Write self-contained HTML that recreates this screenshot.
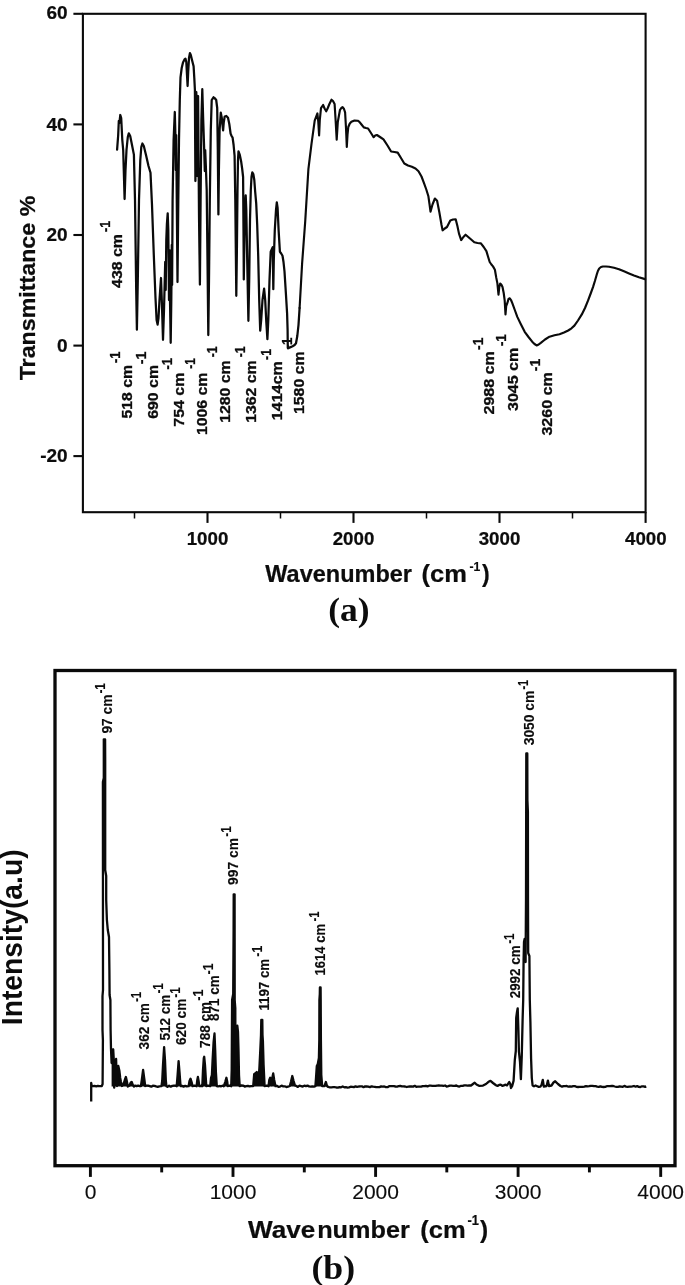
<!DOCTYPE html>
<html lang="en"><head><meta charset="utf-8"><title>FTIR and Raman spectra</title>
<style>html,body{margin:0;padding:0;background:#fff}svg{display:block}text{font-family:"Liberation Sans", Arial, Helvetica, sans-serif;fill:#0c0c0c;stroke:#0c0c0c;stroke-width:0.22px}.b{font-weight:700}.ser{font-family:"Liberation Serif", "Times New Roman", serif;font-weight:700;stroke:none}.lb{stroke-width:0.15px}.la{stroke-width:0.32px}</style></head><body>
<svg width="685" height="1285" viewBox="0 0 685 1285">
<rect width="685" height="1285" fill="#fff"/>
<g fill="none" stroke="#0a0a0a" stroke-width="2.1">
<rect x="82.9" y="13.8" width="562.7" height="498.40000000000003"/>
<line x1="73.4" y1="13.8" x2="82.9" y2="13.8"/>
<line x1="73.4" y1="124.4" x2="82.9" y2="124.4"/>
<line x1="73.4" y1="235.0" x2="82.9" y2="235.0"/>
<line x1="73.4" y1="345.6" x2="82.9" y2="345.6"/>
<line x1="73.4" y1="456.1" x2="82.9" y2="456.1"/>
<line x1="207.5" y1="512.2" x2="207.5" y2="522.9"/>
<line x1="353.5" y1="512.2" x2="353.5" y2="522.9"/>
<line x1="499.5" y1="512.2" x2="499.5" y2="522.9"/>
<line x1="645.6" y1="512.2" x2="645.6" y2="522.9"/>
<line x1="134.5" y1="512.2" x2="134.5" y2="518.5" stroke-width="1.5"/>
<line x1="280.5" y1="512.2" x2="280.5" y2="518.5" stroke-width="1.5"/>
<line x1="426.5" y1="512.2" x2="426.5" y2="518.5" stroke-width="1.5"/>
<line x1="572.5" y1="512.2" x2="572.5" y2="518.5" stroke-width="1.5"/>
</g>
<path d="M117.1,149.6 L118.2,135 L118.8,121 L119.4,123 L120.3,115 L121.2,118 L122.3,140 L123.2,150 L124.6,199 L125.5,170 L126.5,150 L127.8,137 L128.8,133.4 L130.2,136 L132,145 L133.9,154.6 L135,200 L136.2,290 L136.9,329.7 L137.8,280 L139,200 L140.3,160 L141.3,147 L142.4,143.5 L143.8,146 L146,155 L148.5,166 L150.5,172.8 L152,205 L153.8,255 L155.5,298 L156.6,320 L157.6,324.6 L158.5,318 L159.5,300 L161,278 L161.8,300 L163,339.8 L164,310 L165.2,262 L165.7,290 L166.3,240 L166.9,224 L167.7,213.3 L168.3,230 L169,300 L169.5,250 L170,300 L170.7,342.8 L171.3,300 L171.8,245 L172.1,285 L172.6,200 L173.6,140 L174.8,112 L175.4,135 L175.8,170 L176.2,135 L176.6,180 L177.5,282 L178.3,200 L179,140 L179.8,100 L180.5,77.4 L181.7,68 L183,62.4 L184.5,59.5 L185.5,58.7 L186.3,62 L187,75 L187.6,86 L188.2,72 L189,58 L189.9,53.1 L190.8,55 L192,60 L193.6,66.2 L194.3,78 L194.9,89.8 L195.1,130 L195.4,181 L195.9,130 L196.3,92 L196.8,140 L197.2,176 L197.7,130 L198.1,96 L198.5,150 L199,215 L199.9,284.6 L200.6,200 L201.4,120 L202.3,89.2 L203.2,120 L204.2,150 L204.8,171 L205.2,150 L205.8,165 L206.7,190 L207.5,260 L208.3,335.1 L209,280 L209.8,200 L210.8,130 L211.7,100 L213.5,97.3 L215,98.5 L216.2,100 L217.2,108 L217.8,150 L218.4,214.4 L218.9,170 L219.6,130 L220.8,112.6 L221.8,118 L222.5,125 L223.1,130.3 L223.8,122 L224.7,116.5 L226.3,116 L228,117.8 L229.3,124 L230.6,133.6 L231.6,136 L232.6,137.6 L233.6,145 L234.6,156 L235.3,200 L236.3,295.8 L236.9,250 L237.5,190 L238,160 L238.5,151.4 L239.8,155 L241.1,161.2 L242.2,169 L243.1,177 L243.5,230 L243.8,279.4 L244.4,240 L245,205 L245.7,195.4 L246.3,210 L247.2,260 L248.4,320.8 L249.2,280 L250,220 L250.8,190 L251.5,177 L252.3,172.4 L253.3,174 L254.3,180 L255.2,192 L256.2,203.3 L257.2,225 L258.2,255.7 L259.2,300 L260.2,330.6 L261.2,320 L262.5,300 L264.1,288.6 L265.2,300 L266.3,322 L267.4,339.2 L268.3,320 L269.5,280 L270.7,251.8 L272.7,247.2 L273,265 L273.3,289.2 L273.8,260 L274.8,230 L276,210 L276.8,202.3 L277.6,208 L278.6,230 L279.9,251.8 L281.2,253.5 L282.5,255.7 L283.5,262 L284.5,271.5 L285.8,292 L287.1,313.5 L287.6,330 L287.8,348.1 L289.5,347.6 L292.6,346.2 L294.6,345 L296,343.3 L297.3,336 L298.5,325 L299.6,308" fill="none" stroke="#0a0a0a" stroke-width="2.25" stroke-linejoin="round" stroke-linecap="round"/>
<path d="M299.6,308 L302.1,263.6 L305.2,221.6 L308.4,169.1 L311.5,143.8 L314.7,120.7 L317.4,113.4 L318.3,122 L319.1,135.4 L319.8,120 L321,108.1 L323.1,105 L324.6,108.5 L326.2,111.3 L327.8,108 L329.4,104 L331.5,99.7 L333,101 L334.6,103.9 L335.6,120 L336.7,139.6 L337.8,122 L339.9,110.2 L341.3,108 L342.6,107.1 L344,109 L345.1,112.3 L346,128 L346.8,147 L347.5,135 L348.3,127 L349.8,123.5 L351.4,121.8 L354.5,120.5 L357.7,120.7 L359.4,121.9 L361.5,124.5 L363.8,127.4 L366,128 L368.1,128.5 L371,133 L373.6,137.2 L375.2,135.5 L376.9,135 L380,137 L383.5,139.4 L387.5,145.5 L391.1,151.5 L394.5,152 L397.7,152.6 L401,158 L404.3,163.5 L408,165.5 L411.9,166.8 L415.5,168.5 L418.5,171.2 L421.5,176.5 L424,183.2 L426.3,189.5 L428.4,196.3 L429.5,204 L430.5,211.7 L432.5,204.5 L434.9,198.5 L437.1,200.7 L439.3,212 L441.5,224.8 L442.6,230.3 L444.8,228.5 L447,227 L450.3,220.4 L453,219.5 L455.7,219.3 L457.4,226 L459,233.6 L461.2,240.1 L463.4,237 L465.6,234.7 L470,238.5 L474.3,242.3 L477.5,243 L480.9,243.4 L483.7,247 L486.4,251.1 L488,256.5 L489.7,262 L491.4,264.5 L493,266.4 L494.9,269.7 L496.2,277.4 L497.4,283.4 L498.5,294.7 L499.3,287 L500.2,283.5 L501.3,284.5 L502.5,287 L503.7,293 L504.7,300.7 L505.5,314.4 L506.2,306 L507.3,303.2 L508.5,299 L509.8,298.3 L511,300 L512.3,303.2 L514.8,310 L517.3,316.9 L521,324.5 L524.7,331.8 L528.5,337 L532.2,341.7 L534.5,344 L536.6,345.4 L538.7,344.5 L540.8,342.9 L545,339.5 L549.5,336.7 L554.5,335.3 L559.5,334.2 L564,332.5 L568.2,330.5 L571.5,328.3 L574.4,325.6 L578,320.5 L581.8,314.4 L585,308 L588,300.7 L590.5,294 L593,287.1 L594.9,281 L596.7,274.7 L597.9,271 L599.2,268.5 L601,267 L602.9,266.5 L606,266.5 L609.1,266.7 L614,267.8 L619,269.2 L624,271.3 L629,273.4 L634,275.4 L638.9,277.2 L645.1,279.1" fill="none" stroke="#0a0a0a" stroke-width="2.15" stroke-linejoin="round" stroke-linecap="round"/>
<text class="b" x="67.6" y="18.9" font-size="19" text-anchor="end">60</text>
<text class="b" x="67.6" y="130.6" font-size="19" text-anchor="end">40</text>
<text class="b" x="67.6" y="241.1" font-size="19" text-anchor="end">20</text>
<text class="b" x="67.6" y="351.7" font-size="19" text-anchor="end">0</text>
<text class="b" x="67.6" y="462.4" font-size="19" text-anchor="end">-20</text>
<text class="b" x="207.5" y="545.1" font-size="19" text-anchor="middle" textLength="41.6" lengthAdjust="spacingAndGlyphs">1000</text>
<text class="b" x="353.5" y="545.1" font-size="19" text-anchor="middle" textLength="41.6" lengthAdjust="spacingAndGlyphs">2000</text>
<text class="b" x="499.5" y="545.1" font-size="19" text-anchor="middle" textLength="41.6" lengthAdjust="spacingAndGlyphs">3000</text>
<text class="b" x="645.8" y="545.1" font-size="19" text-anchor="middle" textLength="41.6" lengthAdjust="spacingAndGlyphs">4000</text>
<text class="b" transform="translate(35.1,380.3) rotate(-90)" font-size="22.6" textLength="184.6" lengthAdjust="spacingAndGlyphs">Transmittance %</text>
<text class="b" x="265.3" y="581.6" font-size="23" textLength="146.7" lengthAdjust="spacingAndGlyphs">Wavenumber</text>
<text class="b" x="421.6" y="581.6" font-size="23" textLength="45.4" lengthAdjust="spacingAndGlyphs">(cm</text>
<text class="b" x="469.4" y="570.8" font-size="12.8" textLength="10.8" lengthAdjust="spacingAndGlyphs">-1</text>
<text class="b" x="482.0" y="581.6" font-size="23">)</text>
<text class="ser" x="328.2" y="620.9" font-size="33.5" textLength="41.4" lengthAdjust="spacingAndGlyphs">(a)</text>
<text class="b la" transform="translate(122.4,287.9) rotate(-90)" font-size="15" textLength="53.9" lengthAdjust="spacingAndGlyphs">438 cm</text>
<text class="b la" transform="translate(109.8,231.9) rotate(-90)" font-size="14.4" textLength="11.1" lengthAdjust="spacingAndGlyphs">-1</text>
<text class="b la" transform="translate(131.5,418.4) rotate(-90)" font-size="15" textLength="53.4" lengthAdjust="spacingAndGlyphs">518 cm</text>
<text class="b la" transform="translate(120.2,363.09999999999997) rotate(-90)" font-size="14.4" textLength="11.5" lengthAdjust="spacingAndGlyphs">-1</text>
<text class="b la" transform="translate(158.2,418.8) rotate(-90)" font-size="15" textLength="53.8" lengthAdjust="spacingAndGlyphs">690 cm</text>
<text class="b la" transform="translate(146.4,364.29999999999995) rotate(-90)" font-size="14.4" textLength="12.7" lengthAdjust="spacingAndGlyphs">-1</text>
<text class="b la" transform="translate(183.6,426.7) rotate(-90)" font-size="15" textLength="54.1" lengthAdjust="spacingAndGlyphs">754 cm</text>
<text class="b la" transform="translate(171.8,369.59999999999997) rotate(-90)" font-size="14.4" textLength="11.7" lengthAdjust="spacingAndGlyphs">-1</text>
<text class="b la" transform="translate(206.9,435.1) rotate(-90)" font-size="15" textLength="62.5" lengthAdjust="spacingAndGlyphs">1006 cm</text>
<text class="b la" transform="translate(195.0,368.7) rotate(-90)" font-size="14.4" textLength="10.5" lengthAdjust="spacingAndGlyphs">-1</text>
<text class="b la" transform="translate(229.8,422.8) rotate(-90)" font-size="15" textLength="62.5" lengthAdjust="spacingAndGlyphs">1280 cm</text>
<text class="b la" transform="translate(217.0,357.29999999999995) rotate(-90)" font-size="14.4" textLength="10.8" lengthAdjust="spacingAndGlyphs">-1</text>
<text class="b la" transform="translate(256.4,422.8) rotate(-90)" font-size="15" textLength="62.5" lengthAdjust="spacingAndGlyphs">1362 cm</text>
<text class="b la" transform="translate(245.0,357.29999999999995) rotate(-90)" font-size="14.4" textLength="10.8" lengthAdjust="spacingAndGlyphs">-1</text>
<text class="b la" transform="translate(282.3,420.2) rotate(-90)" font-size="15" textLength="59.0" lengthAdjust="spacingAndGlyphs">1414cm</text>
<text class="b la" transform="translate(270.8,359.9) rotate(-90)" font-size="14.4" textLength="10.9" lengthAdjust="spacingAndGlyphs">-1</text>
<text class="b la" transform="translate(303.9,414.0) rotate(-90)" font-size="15" textLength="62.5" lengthAdjust="spacingAndGlyphs">1580 cm</text>
<text class="b la" transform="translate(291.9,349.4) rotate(-90)" font-size="14.4" textLength="11.8" lengthAdjust="spacingAndGlyphs">-1</text>
<text class="b la" transform="translate(494.3,414.5) rotate(-90)" font-size="15" textLength="63.3" lengthAdjust="spacingAndGlyphs">2988 cm</text>
<text class="b la" transform="translate(482.5,349.9) rotate(-90)" font-size="14.4" textLength="12.2" lengthAdjust="spacingAndGlyphs">-1</text>
<text class="b la" transform="translate(517.6,411.0) rotate(-90)" font-size="15" textLength="63.3" lengthAdjust="spacingAndGlyphs">3045 cm</text>
<text class="b la" transform="translate(506.0,346.09999999999997) rotate(-90)" font-size="14.4" textLength="11.9" lengthAdjust="spacingAndGlyphs">-1</text>
<text class="b la" transform="translate(552.1,435.6) rotate(-90)" font-size="15" textLength="63.4" lengthAdjust="spacingAndGlyphs">3260 cm</text>
<text class="b la" transform="translate(539.8,371.29999999999995) rotate(-90)" font-size="14.4" textLength="12.5" lengthAdjust="spacingAndGlyphs">-1</text>
<g fill="none" stroke="#0a0a0a" stroke-width="3.3">
<rect x="55.0" y="670.5" width="620.0" height="495.20000000000005"/>
</g><g fill="none" stroke="#0a0a0a" stroke-width="2.9">
<line x1="90.4" y1="1165.7" x2="90.4" y2="1176.9"/>
<line x1="233.0" y1="1165.7" x2="233.0" y2="1176.9"/>
<line x1="375.6" y1="1165.7" x2="375.6" y2="1176.9"/>
<line x1="518.1" y1="1165.7" x2="518.1" y2="1176.9"/>
<line x1="660.7" y1="1165.7" x2="660.7" y2="1176.9"/>
<line x1="161.7" y1="1165.7" x2="161.7" y2="1172.4"/>
<line x1="304.3" y1="1165.7" x2="304.3" y2="1172.4"/>
<line x1="446.8" y1="1165.7" x2="446.8" y2="1172.4"/>
<line x1="589.4" y1="1165.7" x2="589.4" y2="1172.4"/>
</g>
<path d="M111.6,1063 L112.4,1052 L113.2,1049.3 L113.8,1060 L114.2,1087.7 L114.8,1070 L115.5,1062 L116.1,1059 L116.6,1075 L117,1086 L117.6,1070 L118.3,1066 L119.4,1070.8 L120.2,1078 L121,1082 L122,1086 L123.5,1084 L124.8,1080 L125.9,1077 L126.8,1081 L127.8,1086.5 L129.5,1085.5 L130.8,1082.5 L131.7,1081.9 L132.8,1085 L134,1086.5 L135,1085.6 L136.6,1086.2 L138.2,1085.6 L139.8,1086.1 L140.9,1086.2 L141.8,1080 L143.1,1069.9 L144.3,1079 L145.2,1086 L146.5,1085.6 L148.1,1085.6 L149.7,1086.1 L151.3,1086.7 L152.9,1085.7 L154.5,1085.8 L156.1,1086.4 L157.7,1086.8 L159.3,1086.3 L160.9,1086.1 L161.5,1086 L162.2,1081 L163,1065 L164.1,1047.2 L165,1060 L165.8,1080 L166.4,1086.2 L167.5,1086.9 L169.1,1085.6 L170.7,1086.7 L172.3,1085.9 L173.9,1085.7 L175.5,1085.7 L176.7,1086.2 L177.6,1075 L178.6,1061.2 L179.5,1072 L180.4,1084 L181,1086.2 L182,1085.9 L183.6,1086.6 L185.2,1085.8 L186.8,1086.3 L188.6,1086.2 L189.5,1081 L190.5,1078.7 L191.6,1082 L192.6,1086.2 L194.5,1085.6 L196.6,1086.2 L197.3,1080 L197.9,1077 L198.6,1081 L199.3,1086.2 L200.8,1085.8 L202.3,1086.2 L203,1070 L203.8,1058 L204.2,1056.8 L205,1065 L206.3,1086.2 L208,1085.6 L210.2,1086.2 L211,1078 L211.9,1075 L212.6,1060 L213.6,1042 L214.5,1033.5 L215.2,1050 L215.9,1072 L216.8,1086.2 L218,1086.4 L219.6,1086 L221.2,1086.3 L222.8,1085.6 L223.8,1086.2 L225.2,1082 L226.4,1077.8 L227.3,1082 L227.7,1086.2 L229.5,1085.7 L231.2,1086.2 L231.7,1070 L232.1,1000 L233.2,994 L233.6,930 L233.7,894.3 L234.6,894.3 L234.7,1000 L235.3,1008 L235.4,1050 L235.5,1080 L236,1060 L236.6,1035 L237.3,1025.7 L238,1032 L238.5,1050 L239,1075 L239.7,1086.2 L241.5,1085.3 L243.1,1085.6 L244.7,1086.6 L246.3,1086.1 L247.9,1085.8 L249.5,1086.4 L251.1,1086.1 L253.2,1086 L254.2,1074 L255.4,1073.4 L256.8,1072 L257.6,1083 L258.6,1079 L259.4,1068 L260.3,1050 L261,1035 L261.3,1019.8 L262.3,1019.8 L262.5,1035 L262.9,1041 L263.6,1065 L264.6,1086.2 L266.8,1085.7 L268.5,1086.2 L269.3,1080 L270.2,1077.8 L271,1082 L271.6,1085 L272.3,1078 L273.2,1073.4 L274.2,1080 L275.5,1086.2 L276.8,1085.8 L278.4,1086.8 L280,1086.6 L281.6,1085.7 L283.2,1086.3 L284.8,1086.3 L286.4,1087 L288,1086.7 L289.8,1086 L290.9,1082 L292.3,1076 L293.6,1081 L295,1085.5 L296.3,1085.9 L297.9,1086.9 L299.5,1085.7 L301.1,1086.1 L302.7,1086.6 L304.3,1085.7 L305.9,1086.2 L307.5,1085.6 L309.1,1086.4 L310.7,1086.6 L312.3,1086.3 L313.9,1086.7 L315.4,1086.2 L316,1078 L316.8,1066 L317.8,1064 L318.9,1058 L319.3,1040 L319.4,1000 L319.8,994 L319.9,987.4 L320.6,987.4 L320.7,1000 L320.9,1040 L321.3,1075 L322.2,1086.2 L324.5,1086 L325.9,1082 L327,1086 L328.3,1087 L329.9,1087.4 L329.9,1086.6 L111.6,1086.6Z" fill="#0a0a0a" stroke="none"/>
<path d="M91.2,1101.5 L91.2,1083 L91.8,1086.2 L93,1086.1 L94.6,1085.9 L96.2,1086.3 L97.8,1085.9 L99.4,1086.2 L101,1086.1 L101.8,1086.2 L102.6,1084 L102.9,1040 L102.5,1030 L102.5,996 L103,990 L102.9,782 L103.8,778 L103.8,739.3 L105.1,739.3 L105.2,760 L105.2,870 L106.2,876 L106.2,900 L106.9,920 L107.8,930 L109,937 L109.4,970 L109.6,995 L110.4,1000 L110.6,1030 L111,1049 L111.6,1063 L112.4,1052 L113.2,1049.3 L113.8,1060 L114.2,1087.7 L114.8,1070 L115.5,1062 L116.1,1059 L116.6,1075 L117,1086 L117.6,1070 L118.3,1066 L119.4,1070.8 L120.2,1078 L121,1082 L122,1086 L123.5,1084 L124.8,1080 L125.9,1077 L126.8,1081 L127.8,1086.5 L129.5,1085.5 L130.8,1082.5 L131.7,1081.9 L132.8,1085 L134,1086.5 L135,1085.6 L136.6,1086.2 L138.2,1085.6 L139.8,1086.1 L140.9,1086.2 L141.8,1080 L143.1,1069.9 L144.3,1079 L145.2,1086 L146.5,1085.6 L148.1,1085.6 L149.7,1086.1 L151.3,1086.7 L152.9,1085.7 L154.5,1085.8 L156.1,1086.4 L157.7,1086.8 L159.3,1086.3 L160.9,1086.1 L161.5,1086 L162.2,1081 L163,1065 L164.1,1047.2 L165,1060 L165.8,1080 L166.4,1086.2 L167.5,1086.9 L169.1,1085.6 L170.7,1086.7 L172.3,1085.9 L173.9,1085.7 L175.5,1085.7 L176.7,1086.2 L177.6,1075 L178.6,1061.2 L179.5,1072 L180.4,1084 L181,1086.2 L182,1085.9 L183.6,1086.6 L185.2,1085.8 L186.8,1086.3 L188.6,1086.2 L189.5,1081 L190.5,1078.7 L191.6,1082 L192.6,1086.2 L194.5,1085.6 L196.6,1086.2 L197.3,1080 L197.9,1077 L198.6,1081 L199.3,1086.2 L200.8,1085.8 L202.3,1086.2 L203,1070 L203.8,1058 L204.2,1056.8 L205,1065 L206.3,1086.2 L208,1085.6 L210.2,1086.2 L211,1078 L211.9,1075 L212.6,1060 L213.6,1042 L214.5,1033.5 L215.2,1050 L215.9,1072 L216.8,1086.2 L218,1086.4 L219.6,1086 L221.2,1086.3 L222.8,1085.6 L223.8,1086.2 L225.2,1082 L226.4,1077.8 L227.3,1082 L227.7,1086.2 L229.5,1085.7 L231.2,1086.2 L231.7,1070 L232.1,1000 L233.2,994 L233.6,930 L233.7,894.3 L234.6,894.3 L234.7,1000 L235.3,1008 L235.4,1050 L235.5,1080 L236,1060 L236.6,1035 L237.3,1025.7 L238,1032 L238.5,1050 L239,1075 L239.7,1086.2 L241.5,1085.3 L243.1,1085.6 L244.7,1086.6 L246.3,1086.1 L247.9,1085.8 L249.5,1086.4 L251.1,1086.1 L253.2,1086 L254.2,1074 L255.4,1073.4 L256.8,1072 L257.6,1083 L258.6,1079 L259.4,1068 L260.3,1050 L261,1035 L261.3,1019.8 L262.3,1019.8 L262.5,1035 L262.9,1041 L263.6,1065 L264.6,1086.2 L266.8,1085.7 L268.5,1086.2 L269.3,1080 L270.2,1077.8 L271,1082 L271.6,1085 L272.3,1078 L273.2,1073.4 L274.2,1080 L275.5,1086.2 L276.8,1085.8 L278.4,1086.8 L280,1086.6 L281.6,1085.7 L283.2,1086.3 L284.8,1086.3 L286.4,1087 L288,1086.7 L289.8,1086 L290.9,1082 L292.3,1076 L293.6,1081 L295,1085.5 L296.3,1085.9 L297.9,1086.9 L299.5,1085.7 L301.1,1086.1 L302.7,1086.6 L304.3,1085.7 L305.9,1086.2 L307.5,1085.6 L309.1,1086.4 L310.7,1086.6 L312.3,1086.3 L313.9,1086.7 L315.4,1086.2 L316,1078 L316.8,1066 L317.8,1064 L318.9,1058 L319.3,1040 L319.4,1000 L319.8,994 L319.9,987.4 L320.6,987.4 L320.7,1000 L320.9,1040 L321.3,1075 L322.2,1086.2 L324.5,1086 L325.9,1082 L327,1086 L328.3,1087 L329.9,1087.4 L331.5,1087.3 L333.1,1087.2 L334.7,1087.1 L336.3,1087.5 L337.9,1087.6 L339.5,1087.1 L341.1,1087.3 L342.7,1086.5 L344.3,1087.3 L345.9,1087.2 L347.5,1087.6 L349.1,1087.4 L350.7,1086.7 L352.3,1086.8 L353.9,1087.1 L355.5,1086.4 L357.1,1086.9 L358.7,1086.5 L360.3,1086.4 L361.9,1086.3 L363.5,1087.2 L365.1,1086.4 L366.7,1086.5 L368.3,1086.7 L369.9,1087.2 L371.5,1086.3 L373.1,1086.7 L374.7,1086.8 L376.3,1087.2 L377.9,1087.1 L379.5,1087.1 L381.1,1086.4 L382.7,1086.6 L384.3,1086.5 L385.9,1087.1 L387.5,1087.2 L389.1,1086.2 L390.7,1086.2 L392.3,1086.2 L393.9,1086.2 L395.5,1086.5 L397.1,1086.6 L398.7,1086.2 L400.3,1085.9 L401.9,1086.4 L403.5,1086.3 L405.1,1086.5 L406.7,1087 L408.3,1086.6 L409.9,1086.4 L411.5,1086.5 L413.1,1086.6 L414.7,1085.8 L416.3,1086.8 L417.9,1086.7 L419.5,1086.7 L421.1,1086.6 L422.7,1086.1 L424.3,1086.1 L425.9,1085.8 L427.5,1086.4 L429.1,1085.7 L430.7,1085.7 L432.3,1085.8 L433.9,1085.8 L435.5,1085.9 L437.1,1085.6 L438.7,1085.5 L440.3,1085.7 L441.9,1085.6 L443.5,1085.9 L445.1,1085.5 L446.7,1086.5 L448.3,1086.2 L449.9,1085.6 L451.5,1085.7 L453.1,1085.8 L454.7,1085.8 L456.3,1085.5 L457.9,1086.3 L459.5,1086.5 L461.1,1085.8 L462.7,1085.9 L464.3,1085.4 L465.9,1085.4 L467.5,1085.6 L469.1,1085.5 L471,1085.5 L473,1084 L474.7,1082.7 L476.5,1084.5 L479,1085.8 L483,1085.6 L486,1084 L488.5,1081.8 L490.5,1080.9 L493,1083 L496,1085.2 L497.5,1085.9 L499.1,1084.9 L500.7,1084.7 L502.3,1085.9 L503.9,1085.3 L505.5,1084.7 L507,1085.4 L509.2,1082 L510.3,1084 L511,1088 L512.2,1086 L513.6,1080.6 L514.8,1060 L515.8,1051 L516.2,1018 L517,1012 L517.7,1008.3 L518.4,1030 L518.9,1051.5 L520,1062 L520.9,1079.1 L521.8,1055 L522.6,1020 L523.2,1000 L523.6,960 L524,942 L524.6,939 L525.2,950 L525.6,962 L526,900 L526.3,753.5 L527.3,753.5 L527.4,800 L527.9,812 L528,900 L528.2,953 L529.4,956 L529.8,1000 L530.4,1022 L531.1,1058.7 L531.8,1078 L532.6,1085.5 L534,1086.3 L535.6,1085.5 L537.2,1086.2 L538.8,1086.9 L540.4,1086.7 L541.5,1085 L542.8,1079.9 L543.8,1086.5 L546.6,1086 L547.9,1080.6 L549,1086 L551.5,1085.5 L553.5,1082.5 L555.2,1081.3 L558,1084 L560.5,1086 L562,1086.6 L563.6,1086.1 L565.2,1086.2 L566.8,1086 L568.4,1086.7 L570,1086.4 L571.6,1086.7 L573.2,1086.2 L574.8,1086.1 L576.4,1086.8 L578,1087 L579.6,1086.8 L581.2,1086.8 L582.8,1086.8 L584.4,1086.7 L586,1086.1 L587.6,1086.4 L589.2,1086.2 L590.8,1085.8 L592.4,1085.8 L594,1086.1 L595.6,1086.1 L597.2,1086.6 L598.8,1086.9 L600.4,1086.3 L602,1086.9 L603.6,1087 L605.2,1086.9 L606.8,1086.2 L608.4,1086.1 L610,1086.1 L611.6,1086 L613.2,1086 L614.8,1086.5 L616.4,1086.9 L618,1086.8 L619.6,1086.4 L621.2,1086.6 L622.8,1086.8 L624.4,1085.9 L626,1086.6 L627.6,1086.9 L629.2,1086.7 L630.8,1086.7 L632.4,1086.4 L634,1086 L635.6,1086.7 L637.2,1086.2 L638.8,1086.8 L640.4,1087 L642,1086.3 L643.6,1086.3 L645.2,1086.9 L646.2,1086.4" fill="none" stroke="#0a0a0a" stroke-width="2.3" stroke-linejoin="round" stroke-linecap="butt"/>
<text x="90.6" y="1199.2" font-size="21" text-anchor="middle" style="stroke-width:0.12px">0</text>
<text x="233.0" y="1199.2" font-size="21" text-anchor="middle" style="stroke-width:0.12px">1000</text>
<text x="375.6" y="1199.2" font-size="21" text-anchor="middle" style="stroke-width:0.12px">2000</text>
<text x="518.1" y="1199.2" font-size="21" text-anchor="middle" style="stroke-width:0.12px">3000</text>
<text x="660.7" y="1199.2" font-size="21" text-anchor="middle" style="stroke-width:0.12px">4000</text>
<text class="b" style="stroke:none" transform="translate(22.3,1025.2) rotate(-90)" font-size="28.8" textLength="175.8" lengthAdjust="spacingAndGlyphs">Intensity(a.u)</text>
<text class="b" x="248.0" y="1237.5" font-size="24.4" textLength="67.2" lengthAdjust="spacingAndGlyphs">Wave</text>
<text class="b" x="317.2" y="1237.5" font-size="24.4" textLength="92.6" lengthAdjust="spacingAndGlyphs">number</text>
<text class="b" x="420.3" y="1237.5" font-size="24.4" textLength="45.4" lengthAdjust="spacingAndGlyphs">(cm</text>
<text class="b" x="467.4" y="1225.1" font-size="14.4" textLength="11.4" lengthAdjust="spacingAndGlyphs">-1</text>
<text class="b" x="479.9" y="1237.5" font-size="24.4">)</text>
<text class="ser" x="311.4" y="1278.8" font-size="33.5" textLength="43.7" lengthAdjust="spacingAndGlyphs">(b)</text>
<text class="b lb" transform="translate(112.3,733.6) rotate(-90)" font-size="15" textLength="39.0" lengthAdjust="spacingAndGlyphs">97 cm</text>
<text class="b lb" transform="translate(105.2,693.6) rotate(-90)" font-size="13.8" textLength="10.6" lengthAdjust="spacingAndGlyphs">-1</text>
<text class="b lb" transform="translate(148.8,1049.4) rotate(-90)" font-size="15" textLength="46.3" lengthAdjust="spacingAndGlyphs">362 cm</text>
<text class="b lb" transform="translate(141.0,1002.1) rotate(-90)" font-size="13.8" textLength="10.3" lengthAdjust="spacingAndGlyphs">-1</text>
<text class="b lb" transform="translate(169.5,1040.6) rotate(-90)" font-size="15" textLength="46.0" lengthAdjust="spacingAndGlyphs">512 cm</text>
<text class="b lb" transform="translate(163.4,993.6) rotate(-90)" font-size="13.8" textLength="10.5" lengthAdjust="spacingAndGlyphs">-1</text>
<text class="b lb" transform="translate(186.3,1045.0) rotate(-90)" font-size="15" textLength="46.3" lengthAdjust="spacingAndGlyphs">620 cm</text>
<text class="b lb" transform="translate(179.7,997.6999999999999) rotate(-90)" font-size="13.8" textLength="10.3" lengthAdjust="spacingAndGlyphs">-1</text>
<text class="b lb" transform="translate(210.1,1047.9) rotate(-90)" font-size="15" textLength="46.0" lengthAdjust="spacingAndGlyphs">788 cm</text>
<text class="b lb" transform="translate(203.1,1000.6999999999999) rotate(-90)" font-size="13.8" textLength="11.1" lengthAdjust="spacingAndGlyphs">-1</text>
<text class="b lb" transform="translate(219.4,1020.9) rotate(-90)" font-size="15" textLength="45.6" lengthAdjust="spacingAndGlyphs">871 cm</text>
<text class="b lb" transform="translate(213.3,974.4) rotate(-90)" font-size="13.8" textLength="11.0" lengthAdjust="spacingAndGlyphs">-1</text>
<text class="b lb" transform="translate(238.3,885.0) rotate(-90)" font-size="15" textLength="47.0" lengthAdjust="spacingAndGlyphs">997 cm</text>
<text class="b lb" transform="translate(231.3,836.8) rotate(-90)" font-size="13.8" textLength="10.5" lengthAdjust="spacingAndGlyphs">-1</text>
<text class="b lb" transform="translate(268.9,1010.6) rotate(-90)" font-size="15" textLength="51.8" lengthAdjust="spacingAndGlyphs">1197 cm</text>
<text class="b lb" transform="translate(261.9,956.6999999999999) rotate(-90)" font-size="13.8" textLength="10.9" lengthAdjust="spacingAndGlyphs">-1</text>
<text class="b lb" transform="translate(325.4,975.5) rotate(-90)" font-size="15" textLength="51.7" lengthAdjust="spacingAndGlyphs">1614 cm</text>
<text class="b lb" transform="translate(318.8,921.6) rotate(-90)" font-size="13.8" textLength="10.2" lengthAdjust="spacingAndGlyphs">-1</text>
<text class="b lb" transform="translate(519.5,998.3) rotate(-90)" font-size="15" textLength="52.9" lengthAdjust="spacingAndGlyphs">2992 cm</text>
<text class="b lb" transform="translate(513.7,943.8) rotate(-90)" font-size="13.8" textLength="10.3" lengthAdjust="spacingAndGlyphs">-1</text>
<text class="b lb" transform="translate(533.8,745.3) rotate(-90)" font-size="15" textLength="54.6" lengthAdjust="spacingAndGlyphs">3050 cm</text>
<text class="b lb" transform="translate(528.0,689.5) rotate(-90)" font-size="13.8" textLength="9.6" lengthAdjust="spacingAndGlyphs">-1</text>
</svg></body></html>
